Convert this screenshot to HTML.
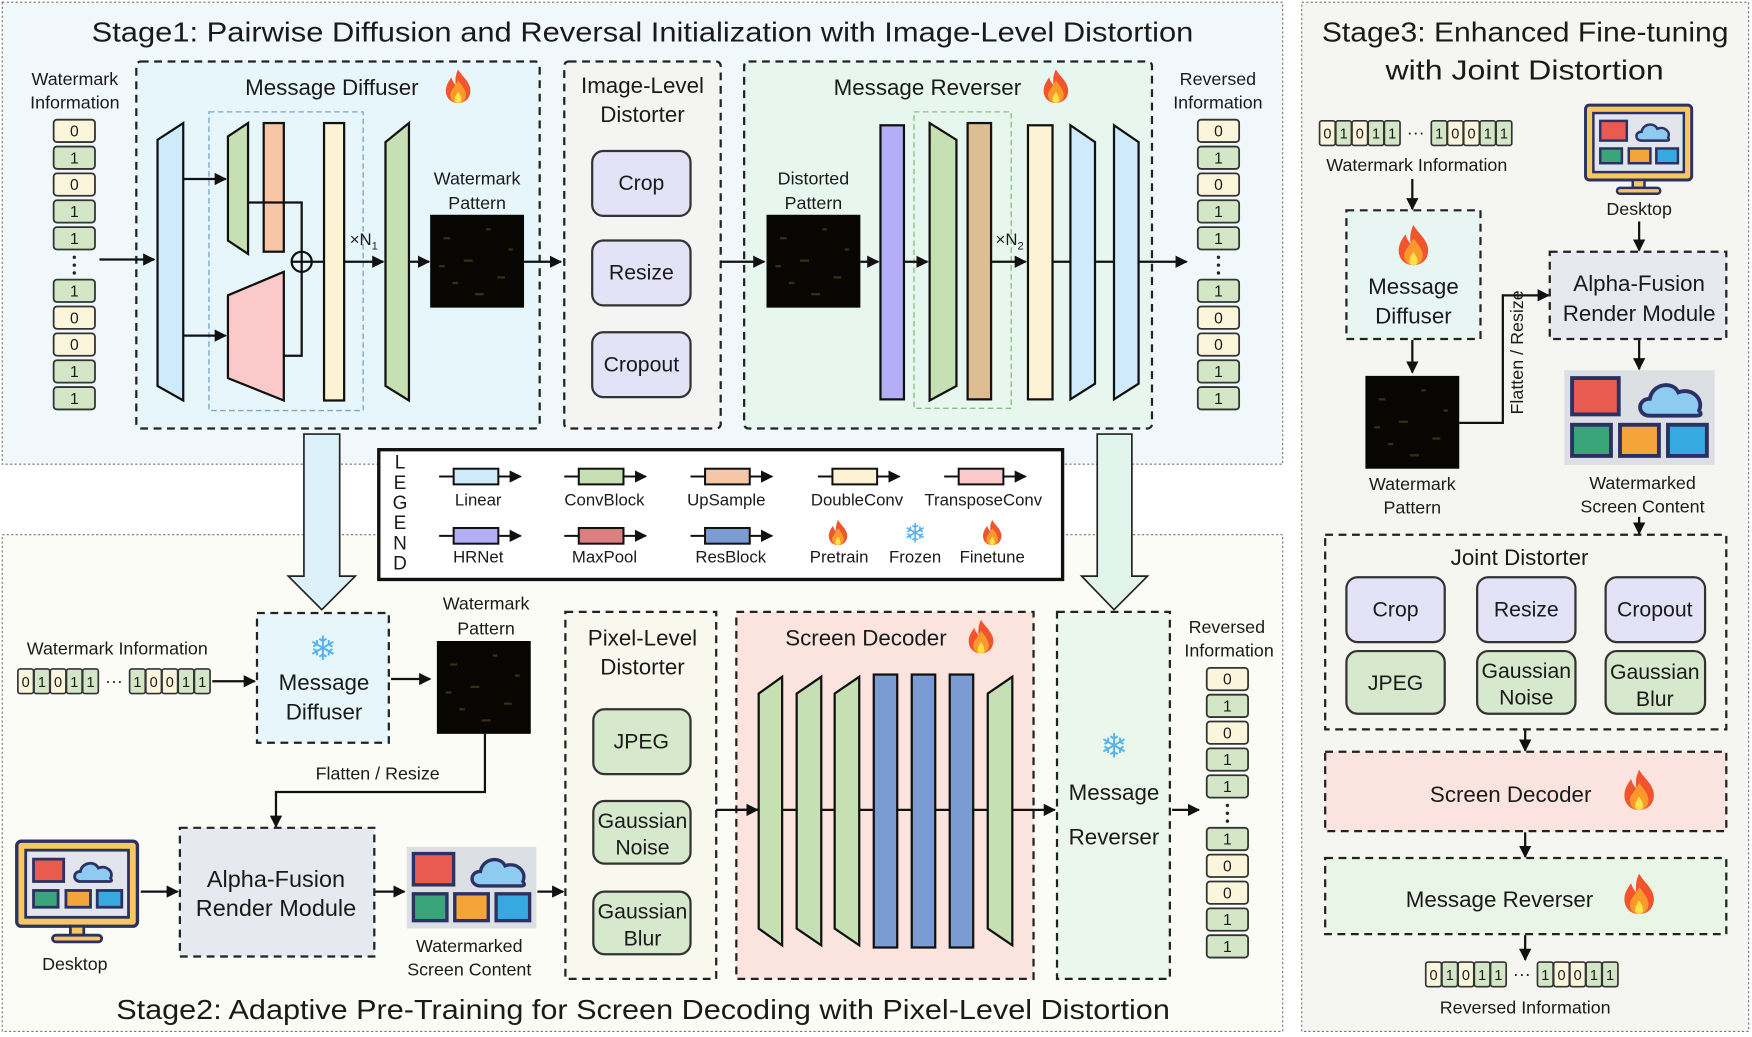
<!DOCTYPE html>
<html><head><meta charset="utf-8"><style>
html,body{margin:0;padding:0;background:#fff}
svg{display:block}
text{font-family:"Liberation Sans",sans-serif;fill:#1a1a1a}
</style></head><body>
<svg width="1752" height="1037" viewBox="0 0 1568 927" preserveAspectRatio="none" xmlns="http://www.w3.org/2000/svg">
<defs>
<marker id="ar" viewBox="0 0 10 10" refX="9" refY="5" markerWidth="11" markerHeight="11" markerUnits="userSpaceOnUse" orient="auto"><path d="M0,0L10,5L0,10z" fill="#111"/></marker>
<g id="fl"><path d="M0,-15C3,-9 11,-4 11,4C11,11 6,15 0,15C-7,15 -11,10 -11,4C-11,-1 -8,-5 -6,-8C-5,-4 -3,-2 -2,-1C-3,-6 -2,-11 0,-15Z" fill="#f2542d"/><path d="M0,-5C4,0 7,4 7,8C7,12 4,15 0,15C-4,15 -7,12 -7,8C-7,4 -3,1 0,-5Z" fill="#fb9a2b"/><path d="M0,5C2,8 3,10 3,12C3,14 1.5,15 0,15C-1.5,15 -3,14 -3,12C-3,10 -2,8 0,5Z" fill="#ffe24a"/></g>
<g id="b0"><rect x="0" y="0" width="37" height="20" rx="3" fill="#fbf5dc" stroke="#333" stroke-width="1.6"/><text x="18.5" y="15" font-size="14" text-anchor="middle">0</text></g>
<g id="b1"><rect x="0" y="0" width="37" height="20" rx="3" fill="#d3e7c6" stroke="#333" stroke-width="1.6"/><text x="18.5" y="15" font-size="14" text-anchor="middle">1</text></g>
<g id="h0"><rect x="0" y="0" width="14" height="22" rx="2" fill="#fbf5dc" stroke="#333" stroke-width="1.5"/><text x="7" y="16" font-size="13" text-anchor="middle">0</text></g>
<g id="h1"><rect x="0" y="0" width="14" height="22" rx="2" fill="#d3e7c6" stroke="#333" stroke-width="1.5"/><text x="7" y="16" font-size="13" text-anchor="middle">1</text></g>
<g id="hrow"><use href="#h0" x="0"/><use href="#h1" x="14.5"/><use href="#h0" x="29"/><use href="#h1" x="43.5"/><use href="#h1" x="58"/><text x="86" y="16" font-size="16" text-anchor="middle">···</text><use href="#h1" x="100"/><use href="#h0" x="114.5"/><use href="#h0" x="129"/><use href="#h1" x="143.5"/><use href="#h1" x="158"/></g>
<g id="vcol"><use href="#b0" y="0"/><use href="#b1" y="24"/><use href="#b0" y="48"/><use href="#b1" y="72"/><use href="#b1" y="96"/><circle cx="18.5" cy="123" r="1.5" fill="#222"/><circle cx="18.5" cy="130" r="1.5" fill="#222"/><circle cx="18.5" cy="137" r="1.5" fill="#222"/><use href="#b1" y="143"/><use href="#b0" y="167"/><use href="#b0" y="191"/><use href="#b1" y="215"/><use href="#b1" y="239"/></g>
<g id="pat"><rect x="0" y="0" width="84" height="83" fill="#070603"/><g fill="#3a300c"><rect x="12" y="20" width="6" height="2"/><rect x="30" y="40" width="8" height="2"/><rect x="50" y="12" width="4" height="2"/><rect x="60" y="55" width="7" height="2"/><rect x="20" y="60" width="5" height="2"/><rect x="40" y="70" width="8" height="2"/><rect x="70" y="30" width="4" height="2"/><rect x="8" y="45" width="5" height="2"/></g></g>
<g id="desk"><rect x="0" y="0" width="108" height="76" rx="4" fill="#f6c85f" stroke="#2b3263" stroke-width="3"/><rect x="8" y="8" width="92" height="60" fill="#e2e5eb" stroke="#2b3263" stroke-width="2.5"/><rect x="15" y="16" width="27" height="20" fill="#ea5b4f" stroke="#2b3263" stroke-width="2.5"/><path d="M57,36 C50,36 50,27 57,27 C58,19 70,17 73,24 C80,21 87,27 84,33 C86,36 84,36 82,36Z" fill="#8ecbf0" stroke="#2b3263" stroke-width="2.5"/><rect x="15" y="44" width="22" height="15" fill="#3aa57a" stroke="#2b3263" stroke-width="2.5"/><rect x="44" y="44" width="22" height="15" fill="#f3a43b" stroke="#2b3263" stroke-width="2.5"/><rect x="72" y="44" width="22" height="15" fill="#36a9e1" stroke="#2b3263" stroke-width="2.5"/><rect x="48" y="76" width="12" height="8" fill="#f6c85f" stroke="#2b3263" stroke-width="2.5"/><rect x="32" y="84" width="44" height="6" rx="3" fill="#f6c85f" stroke="#2b3263" stroke-width="2.5"/></g>
<g id="scr"><rect x="0" y="0" width="116" height="73" fill="#dcdfe4"/><rect x="6" y="6" width="36" height="28" fill="#ea5b4f" stroke="#2b3263" stroke-width="3"/><path d="M66,35 C56,35 56,22 66,22 C68,10 84,8 88,17 C98,13 108,22 104,31 C107,35 104,35 100,35Z" fill="#8ecbf0" stroke="#2b3263" stroke-width="3"/><rect x="6" y="42" width="30" height="24" fill="#3aa57a" stroke="#2b3263" stroke-width="3"/><rect x="43" y="42" width="30" height="24" fill="#f3a43b" stroke="#2b3263" stroke-width="3"/><rect x="80" y="42" width="30" height="24" fill="#36a9e1" stroke="#2b3263" stroke-width="3"/></g>
</defs>

<rect x="2" y="2" width="1146" height="413" fill="#f1f8fc" stroke="#777" stroke-width="1" stroke-dasharray="2,2"/>
<rect x="2" y="478" width="1146" height="444" fill="#fcfcf6" stroke="#777" stroke-width="1" stroke-dasharray="2,2"/>
<rect x="1165" y="2" width="400" height="920" fill="#f5f6f1" stroke="#777" stroke-width="1" stroke-dasharray="2,2"/>

<text x="82" y="37" font-size="25" textLength="986" lengthAdjust="spacingAndGlyphs">Stage1: Pairwise Diffusion and Reversal Initialization with Image-Level Distortion</text>
<text x="104" y="911" font-size="25" textLength="943" lengthAdjust="spacingAndGlyphs">Stage2: Adaptive Pre-Training for Screen Decoding with Pixel-Level Distortion</text>
<text x="1183" y="37" font-size="25" textLength="364" lengthAdjust="spacingAndGlyphs">Stage3: Enhanced Fine-tuning</text>
<text x="1240" y="71" font-size="25" textLength="249" lengthAdjust="spacingAndGlyphs">with Joint Distortion</text>

<text x="67" y="76" font-size="16" text-anchor="middle">Watermark</text>
<text x="67" y="97" font-size="16" text-anchor="middle">Information</text>
<use href="#vcol" x="48" y="107"/>

<rect x="122" y="55" width="361" height="328" rx="4" fill="#e7f6fb" stroke="#222" stroke-width="2" stroke-dasharray="7,5"/>
<line x1="89" y1="232" x2="138" y2="232" stroke="#111" stroke-width="2" marker-end="url(#ar)"/>
<text x="297" y="85" font-size="20" text-anchor="middle">Message Diffuser</text>
<use href="#fl" x="410" y="77"/>
<rect x="187" y="100" width="138" height="267" fill="none" stroke="#7aa7cf" stroke-width="1.2" stroke-dasharray="5,3"/>
<polygon points="141,125 164,110 164,358 141,345" fill="#cfeafb" stroke="#111" stroke-width="2"/>
<line x1="164" y1="160" x2="202" y2="160" stroke="#111" stroke-width="2" marker-end="url(#ar)"/>
<line x1="164" y1="300" x2="202" y2="300" stroke="#111" stroke-width="2" marker-end="url(#ar)"/>
<polygon points="204,122 222,110 222,227 204,215" fill="#c6e0b4" stroke="#111" stroke-width="2"/>
<rect x="236" y="110" width="18" height="115" fill="#f7c6a6" stroke="#111" stroke-width="2"/>
<polygon points="204,264 254,243 254,358 204,338" fill="#fbc9c9" stroke="#111" stroke-width="2"/>
<polyline points="222,181 270,181 270,225" fill="none" stroke="#111" stroke-width="2"/>
<polyline points="254,318 270,318 270,243" fill="none" stroke="#111" stroke-width="2"/>
<circle cx="270" cy="234" r="9" fill="none" stroke="#111" stroke-width="2"/>
<line x1="261" y1="234" x2="279" y2="234" stroke="#111" stroke-width="2"/>
<line x1="270" y1="225" x2="270" y2="243" stroke="#111" stroke-width="2"/>
<line x1="279" y1="234" x2="290" y2="234" stroke="#111" stroke-width="2"/>
<rect x="290" y="110" width="18" height="248" fill="#fdf2d3" stroke="#111" stroke-width="2"/>
<line x1="308" y1="234" x2="343" y2="234" stroke="#111" stroke-width="2" marker-end="url(#ar)"/>
<text x="313" y="219" font-size="15">×N<tspan font-size="10" dy="4">1</tspan></text>
<polygon points="345,127 366,110 366,358 345,345" fill="#c6e0b4" stroke="#111" stroke-width="2"/>
<line x1="366" y1="234" x2="384" y2="234" stroke="#111" stroke-width="2" marker-end="url(#ar)"/>
<text x="427" y="165" font-size="16" text-anchor="middle">Watermark</text>
<text x="427" y="187" font-size="16" text-anchor="middle">Pattern</text>
<use href="#pat" x="385" y="192"/>

<rect x="505" y="55" width="140" height="328" rx="4" fill="#f4f4f3" stroke="#222" stroke-width="2" stroke-dasharray="7,5"/>
<line x1="469" y1="234" x2="502" y2="234" stroke="#111" stroke-width="2" marker-end="url(#ar)"/>
<text x="575" y="83" font-size="20" text-anchor="middle">Image-Level</text>
<text x="575" y="109" font-size="20" text-anchor="middle">Distorter</text>
<rect x="530" y="135" width="88" height="58" rx="10" fill="#e4e2f7" stroke="#333" stroke-width="2"/>
<text x="574" y="170" font-size="19" text-anchor="middle">Crop</text>
<rect x="530" y="215" width="88" height="58" rx="10" fill="#e4e2f7" stroke="#333" stroke-width="2"/>
<text x="574" y="250" font-size="19" text-anchor="middle">Resize</text>
<rect x="530" y="297" width="88" height="58" rx="10" fill="#e4e2f7" stroke="#333" stroke-width="2"/>
<text x="574" y="332" font-size="19" text-anchor="middle">Cropout</text>

<rect x="666" y="55" width="365" height="328" rx="4" fill="#e7f7f0" stroke="#222" stroke-width="2" stroke-dasharray="7,5"/>
<line x1="645" y1="234" x2="684" y2="234" stroke="#111" stroke-width="2" marker-end="url(#ar)"/>
<text x="830" y="85" font-size="20" text-anchor="middle">Message Reverser</text>
<use href="#fl" x="945" y="77"/>
<text x="728" y="165" font-size="16" text-anchor="middle">Distorted</text>
<text x="728" y="187" font-size="16" text-anchor="middle">Pattern</text>
<use href="#pat" x="686" y="192"/>
<line x1="770" y1="234" x2="786" y2="234" stroke="#111" stroke-width="2" marker-end="url(#ar)"/>
<rect x="788" y="112" width="21" height="245" fill="#b3aef5" stroke="#111" stroke-width="2"/>
<rect x="818" y="100" width="87" height="265" fill="none" stroke="#8cc07a" stroke-width="1.2" stroke-dasharray="5,3"/>
<line x1="809" y1="234" x2="830" y2="234" stroke="#111" stroke-width="2" marker-end="url(#ar)"/>
<polygon points="832,110 856,125 856,345 832,358" fill="#c6e0b4" stroke="#111" stroke-width="2"/>
<rect x="866" y="110" width="21" height="247" fill="#dfbd92" stroke="#111" stroke-width="2"/>
<line x1="887" y1="234" x2="918" y2="234" stroke="#111" stroke-width="2" marker-end="url(#ar)"/>
<text x="891" y="219" font-size="15">×N<tspan font-size="10" dy="4">2</tspan></text>
<rect x="920" y="112" width="22" height="245" fill="#fdf2d3" stroke="#111" stroke-width="2"/>
<line x1="942" y1="234" x2="958" y2="234" stroke="#111" stroke-width="2"/>
<polygon points="958,112 980,127 980,343 958,357" fill="#cfeafb" stroke="#111" stroke-width="2"/>
<line x1="980" y1="234" x2="997" y2="234" stroke="#111" stroke-width="2"/>
<polygon points="997,112 1019,127 1019,343 997,357" fill="#cfeafb" stroke="#111" stroke-width="2"/>
<line x1="1019" y1="234" x2="1062" y2="234" stroke="#111" stroke-width="2" marker-end="url(#ar)"/>
<text x="1090" y="76" font-size="16" text-anchor="middle">Reversed</text>
<text x="1090" y="97" font-size="16" text-anchor="middle">Information</text>
<use href="#vcol" x="1072" y="107"/>

<polygon points="272,388 304,388 304,515 318,515 288,545 258,515 272,515" fill="#ddf1fb" stroke="#222" stroke-width="1.5"/>
<polygon points="982,388 1013,388 1013,515 1027,515 997,545 968,515 982,515" fill="#e2f5ec" stroke="#222" stroke-width="1.5"/>

<rect x="339" y="402" width="612" height="116" fill="#fff" stroke="#111" stroke-width="3"/>
<g font-size="17" text-anchor="middle"><text x="358" y="419">L</text><text x="358" y="437">E</text><text x="358" y="455">G</text><text x="358" y="473">E</text><text x="358" y="491">N</text><text x="358" y="509">D</text></g>
<g stroke="#111" stroke-width="1.8">
<line x1="393" y1="426" x2="466" y2="426" marker-end="url(#ar)"/><rect x="406" y="419" width="40" height="14" fill="#cfeafb"/>
<line x1="505" y1="426" x2="578" y2="426" marker-end="url(#ar)"/><rect x="518" y="419" width="40" height="14" fill="#c6e0b4"/>
<line x1="618" y1="426" x2="691" y2="426" marker-end="url(#ar)"/><rect x="631" y="419" width="40" height="14" fill="#f7c6a6"/>
<line x1="732" y1="426" x2="805" y2="426" marker-end="url(#ar)"/><rect x="745" y="419" width="40" height="14" fill="#fdf2d3"/>
<line x1="845" y1="426" x2="918" y2="426" marker-end="url(#ar)"/><rect x="858" y="419" width="40" height="14" fill="#fbc9c9"/>
<line x1="393" y1="479" x2="466" y2="479" marker-end="url(#ar)"/><rect x="406" y="472" width="40" height="14" fill="#b3aef5"/>
<line x1="505" y1="479" x2="578" y2="479" marker-end="url(#ar)"/><rect x="518" y="472" width="40" height="14" fill="#dc7f7f"/>
<line x1="618" y1="479" x2="691" y2="479" marker-end="url(#ar)"/><rect x="631" y="472" width="40" height="14" fill="#7b9bd3"/>
</g>
<g font-size="15" text-anchor="middle">
<text x="428" y="452">Linear</text><text x="541" y="452">ConvBlock</text><text x="650" y="452">UpSample</text><text x="767" y="452">DoubleConv</text><text x="880" y="452">TransposeConv</text>
<text x="428" y="503">HRNet</text><text x="541" y="503">MaxPool</text><text x="654" y="503">ResBlock</text><text x="751" y="503">Pretrain</text><text x="819" y="503">Frozen</text><text x="888" y="503">Finetune</text>
</g>
<use href="#fl" transform="translate(750,476) scale(0.75)"/>
<use href="#fl" transform="translate(888,476) scale(0.75)"/>
<text x="819" y="485" font-size="24" text-anchor="middle" style="fill:#55b3f0">❄</text>

<text x="105" y="585" font-size="16" text-anchor="middle">Watermark Information</text>
<use href="#hrow" x="16" y="598"/>
<rect x="230" y="548" width="118" height="116" fill="#e7f6fb" stroke="#222" stroke-width="2" stroke-dasharray="7,5"/>
<line x1="190" y1="609" x2="228" y2="609" stroke="#111" stroke-width="2" marker-end="url(#ar)"/>
<text x="289" y="590" font-size="30" text-anchor="middle" style="fill:#55b3f0">❄</text>
<text x="290" y="617" font-size="20" text-anchor="middle">Message</text>
<text x="290" y="643" font-size="20" text-anchor="middle">Diffuser</text>
<line x1="350" y1="607" x2="385" y2="607" stroke="#111" stroke-width="2" marker-end="url(#ar)"/>
<text x="435" y="545" font-size="16" text-anchor="middle">Watermark</text>
<text x="435" y="567" font-size="16" text-anchor="middle">Pattern</text>
<use href="#pat" x="391" y="573"/>
<text x="338" y="697" font-size="16" text-anchor="middle">Flatten / Resize</text>
<use href="#desk" x="15" y="752"/>
<text x="67" y="867" font-size="16" text-anchor="middle">Desktop</text>
<rect x="161" y="740" width="174" height="115" fill="#e6e9ef" stroke="#222" stroke-width="2" stroke-dasharray="7,5"/>
<polyline points="434,656 434,708 247,708 247,739" fill="none" stroke="#111" stroke-width="2" marker-end="url(#ar)"/>
<line x1="126" y1="797" x2="159" y2="797" stroke="#111" stroke-width="2" marker-end="url(#ar)"/>
<text x="247" y="793" font-size="21" text-anchor="middle">Alpha-Fusion</text>
<text x="247" y="819" font-size="21" text-anchor="middle">Render Module</text>
<line x1="336" y1="797" x2="362" y2="797" stroke="#111" stroke-width="2" marker-end="url(#ar)"/>
<use href="#scr" x="364" y="757"/>
<text x="420" y="851" font-size="16" text-anchor="middle">Watermarked</text>
<text x="420" y="872" font-size="16" text-anchor="middle">Screen Content</text>

<rect x="506" y="547" width="135" height="328" fill="#f8f8ef" stroke="#222" stroke-width="2" stroke-dasharray="7,5"/>
<line x1="481" y1="797" x2="504" y2="797" stroke="#111" stroke-width="2" marker-end="url(#ar)"/>
<text x="575" y="577" font-size="20" text-anchor="middle">Pixel-Level</text>
<text x="575" y="603" font-size="20" text-anchor="middle">Distorter</text>
<rect x="531" y="634" width="87" height="58" rx="10" fill="#d6e9cc" stroke="#333" stroke-width="2"/>
<text x="574" y="669" font-size="19" text-anchor="middle">JPEG</text>
<rect x="531" y="716" width="87" height="56" rx="10" fill="#d6e9cc" stroke="#333" stroke-width="2"/>
<text x="575" y="740" font-size="19" text-anchor="middle">Gaussian</text>
<text x="575" y="764" font-size="19" text-anchor="middle">Noise</text>
<rect x="531" y="797" width="87" height="56" rx="10" fill="#d6e9cc" stroke="#333" stroke-width="2"/>
<text x="575" y="821" font-size="19" text-anchor="middle">Gaussian</text>
<text x="575" y="845" font-size="19" text-anchor="middle">Blur</text>

<rect x="659" y="547" width="266" height="328" fill="#fbe4de" stroke="#222" stroke-width="2" stroke-dasharray="7,5"/>
<rect x="946" y="547" width="101" height="328" fill="#ebf7ea" stroke="#222" stroke-width="2" stroke-dasharray="7,5"/>
<text x="775" y="577" font-size="20" text-anchor="middle">Screen Decoder</text>
<use href="#fl" x="878" y="569"/>
<line x1="641" y1="724" x2="944" y2="724" stroke="#111" stroke-width="2" marker-end="url(#ar)"/>
<polygon points="679,620 700,605 700,845 679,830" fill="#c6e0b4" stroke="#111" stroke-width="2"/>
<polygon points="713,620 735,605 735,845 713,830" fill="#c6e0b4" stroke="#111" stroke-width="2"/>
<polygon points="747,620 769,605 769,845 747,830" fill="#c6e0b4" stroke="#111" stroke-width="2"/>
<rect x="782" y="603" width="21" height="244" fill="#7b9bd3" stroke="#111" stroke-width="2"/>
<rect x="816" y="603" width="21" height="244" fill="#7b9bd3" stroke="#111" stroke-width="2"/>
<rect x="850" y="603" width="21" height="244" fill="#7b9bd3" stroke="#111" stroke-width="2"/>
<polygon points="884,620 906,605 906,845 884,830" fill="#c6e0b4" stroke="#111" stroke-width="2"/>
<line x1="660" y1="724" x2="678" y2="724" stroke="#111" stroke-width="2" marker-end="url(#ar)"/>

<text x="997" y="677" font-size="30" text-anchor="middle" style="fill:#55b3f0">❄</text>
<text x="997" y="715" font-size="20" text-anchor="middle">Message</text>
<text x="997" y="755" font-size="20" text-anchor="middle">Reverser</text>
<line x1="1049" y1="724" x2="1073" y2="724" stroke="#111" stroke-width="2" marker-end="url(#ar)"/>
<text x="1098" y="566" font-size="16" text-anchor="middle">Reversed</text>
<text x="1100" y="587" font-size="16" text-anchor="middle">Information</text>
<use href="#vcol" x="1080" y="597"/>

<use href="#hrow" x="1181" y="108"/>
<text x="1268" y="153" font-size="16" text-anchor="middle">Watermark Information</text>
<use href="#desk" transform="translate(1419,94) scale(0.88)"/>
<text x="1467" y="192" font-size="16" text-anchor="middle">Desktop</text>
<rect x="1205" y="188" width="120" height="115" fill="#e8f6f3" stroke="#222" stroke-width="2" stroke-dasharray="7,5"/>
<rect x="1387" y="225" width="158" height="78" fill="#e6e9ef" stroke="#222" stroke-width="2" stroke-dasharray="7,5"/>
<line x1="1264" y1="160" x2="1264" y2="187" stroke="#111" stroke-width="2" marker-end="url(#ar)"/>
<line x1="1467" y1="198" x2="1467" y2="224" stroke="#111" stroke-width="2" marker-end="url(#ar)"/>
<use href="#fl" transform="translate(1265,219) scale(1.2)"/>
<text x="1265" y="263" font-size="20" text-anchor="middle">Message</text>
<text x="1265" y="289" font-size="20" text-anchor="middle">Diffuser</text>
<line x1="1264" y1="304" x2="1264" y2="333" stroke="#111" stroke-width="2" marker-end="url(#ar)"/>
<use href="#pat" x="1222" y="336"/>
<text x="1264" y="438" font-size="16" text-anchor="middle">Watermark</text>
<text x="1264" y="459" font-size="16" text-anchor="middle">Pattern</text>
<polyline points="1306,378 1345,378 1345,264 1386,264" fill="none" stroke="#111" stroke-width="2" marker-end="url(#ar)"/>
<text transform="translate(1363,315) rotate(-90)" font-size="16" text-anchor="middle">Flatten / Resize</text>
<text x="1467" y="260" font-size="20" text-anchor="middle">Alpha-Fusion</text>
<text x="1467" y="287" font-size="20" text-anchor="middle">Render Module</text>
<line x1="1467" y1="304" x2="1467" y2="330" stroke="#111" stroke-width="2" marker-end="url(#ar)"/>
<use href="#scr" transform="translate(1400,331) scale(1.16)"/>
<text x="1470" y="437" font-size="16" text-anchor="middle">Watermarked</text>
<text x="1470" y="458" font-size="16" text-anchor="middle">Screen Content</text>

<rect x="1186" y="478" width="359" height="174" fill="#f6f6f0" stroke="#222" stroke-width="2" stroke-dasharray="7,5"/>
<line x1="1467" y1="462" x2="1467" y2="477" stroke="#111" stroke-width="2" marker-end="url(#ar)"/>
<text x="1360" y="505" font-size="20" text-anchor="middle">Joint Distorter</text>
<g stroke="#333" stroke-width="2">
<rect x="1205" y="516" width="88" height="58" rx="10" fill="#e4e2f7"/><rect x="1322" y="516" width="88" height="58" rx="10" fill="#e4e2f7"/><rect x="1437" y="516" width="89" height="58" rx="10" fill="#e4e2f7"/>
<rect x="1205" y="582" width="88" height="56" rx="10" fill="#d6e9cc"/><rect x="1322" y="582" width="88" height="56" rx="10" fill="#d6e9cc"/><rect x="1437" y="582" width="89" height="56" rx="10" fill="#d6e9cc"/>
</g>
<g font-size="19" text-anchor="middle">
<text x="1249" y="551">Crop</text><text x="1366" y="551">Resize</text><text x="1481" y="551">Cropout</text>
<text x="1249" y="617">JPEG</text><text x="1366" y="606">Gaussian</text><text x="1366" y="630">Noise</text><text x="1481" y="607">Gaussian</text><text x="1481" y="631">Blur</text>
</g>
<rect x="1186" y="672" width="359" height="71" fill="#fbe3df" stroke="#222" stroke-width="2" stroke-dasharray="7,5"/>
<line x1="1365" y1="653" x2="1365" y2="671" stroke="#111" stroke-width="2" marker-end="url(#ar)"/>
<text x="1352" y="717" font-size="20" text-anchor="middle">Screen Decoder</text>
<use href="#fl" transform="translate(1467,706) scale(1.2)"/>
<rect x="1186" y="767" width="359" height="68" fill="#e9f5e6" stroke="#222" stroke-width="2" stroke-dasharray="7,5"/>
<line x1="1365" y1="744" x2="1365" y2="766" stroke="#111" stroke-width="2" marker-end="url(#ar)"/>
<text x="1342" y="811" font-size="20" text-anchor="middle">Message Reverser</text>
<use href="#fl" transform="translate(1467,799) scale(1.2)"/>
<line x1="1365" y1="836" x2="1365" y2="858" stroke="#111" stroke-width="2" marker-end="url(#ar)"/>
<use href="#hrow" x="1276" y="860"/>
<text x="1365" y="906" font-size="16" text-anchor="middle">Reversed Information</text>
</svg>
</body></html>
